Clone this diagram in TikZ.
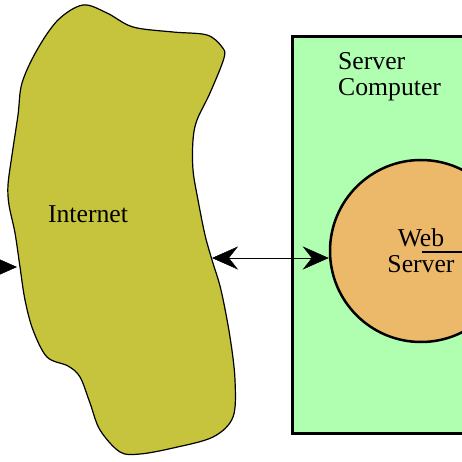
\documentclass[tikz,border=0pt]{standalone}
\usepackage{fontspec}
\setmainfont{Liberation Serif}
\usepackage{xcolor}
\usepackage{tikz}
\usetikzlibrary{arrows.meta, positioning, calc}
\definecolor{cloudolive}{RGB}{197,196,60}
\definecolor{hostgreen}{RGB}{176,255,176}
\definecolor{serverorange}{RGB}{236,185,106}

\begin{document}
\begin{tikzpicture}[x=1pt, y=-1pt,
        bigtext/.style={font=\fontsize{25.7}{26}\selectfont, inner sep=0pt},
        arrow/.style={-{Stealth[length=26pt, width=23pt, inset=9pt]}, thin},
        twoway/.style={{Stealth[length=26pt, width=23pt, inset=9pt]}-{Stealth[length=26pt, width=23pt, inset=9pt]}, thin}
    ]
        \useasboundingbox (0,0) rectangle (462,462);
        \begin{scope}
        \clip (0,0) rectangle (462,462);
        % server computer
        \node[draw, line width=3pt, fill=hostgreen, minimum width=240pt, minimum height=397pt, inner sep=0pt, anchor=north west] (host) at (291,35) {};
        \node[bigtext, align=left, anchor=north west] (hosttext) at (338,52) {Server\\Computer};
        \node[circle, draw, line width=2.5pt, fill=serverorange, minimum size=182pt, bigtext, align=center] (websrv) at (421,251) {Web\\Server};

        % internet cloud
        \draw[fill=cloudolive, line width=1.2pt] plot[smooth cycle, tension=0.55] coordinates {
            (83,5) (107,13) (133,27) (173,32) (207,35) (222,47) (224,58) (210,93) (197,120)
            (193,140) (193,170) (198,200) (205,235) (212,260) (221,290) (230,337) (235,380)
            (233,417) (213,437) (173,448) (140,454) (120,452) (100,430) (90,403) (80,377)
            (68,366) (47,357) (33,330) (25,300) (20,267) (15,233) (9,205) (8,185) (12,155)
            (18,115) (22,83) (37,50) (58,20)};
        \node[bigtext] (internet) at (88,214) {Internet};

        % connectors
        \coordinate (offleft) at (-20,267);
        \coordinate (cloudwest) at (17,267);
        \coordinate (cloudeast) at (212,258);
        \coordinate (tap) at (422,252);
        \coordinate (offright) at (480,252);
        \draw[arrow] (offleft) -- (cloudwest);
        \draw[twoway] (cloudeast) -- (websrv.west |- cloudeast);
        \draw[line width=2pt] (tap) -- (offright);
        \end{scope}
    \end{tikzpicture}
\end{document}
